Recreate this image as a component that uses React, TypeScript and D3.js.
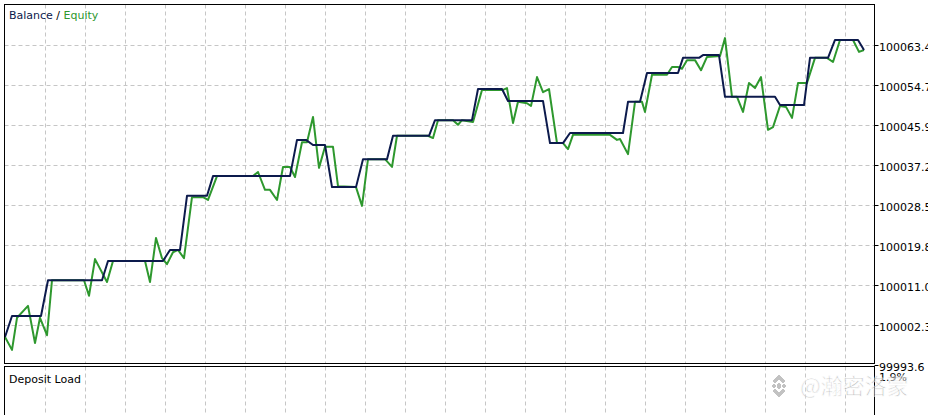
import React from "react";
import * as d3 from "d3";

// Balance line: time index (bar number) and account value
const balanceT = [0, 7, 36, 43, 97, 103, 158, 165, 175, 182, 202, 208, 285, 292, 301, 308, 320, 327, 351, 358, 382, 388, 424, 430, 467, 473, 497, 503, 538, 545, 558, 565, 618, 623, 635, 642, 673, 678, 694, 698, 714, 720, 770, 775, 799, 805, 823, 830, 853, 859];
const balanceV = [99999.7, 100004.3, 100004.3, 100012.1, 100012.1, 100016.3, 100016.3, 100018.7, 100018.7, 100030.5, 100030.5, 100034.8, 100034.8, 100042.7, 100042.7, 100041.6, 100041.6, 100032.4, 100032.4, 100038.5, 100038.5, 100043.6, 100043.6, 100047.0, 100047.0, 100053.8, 100053.8, 100051.2, 100051.2, 100042.0, 100042.0, 100044.2, 100044.2, 100051.0, 100051.0, 100057.3, 100057.3, 100060.6, 100060.6, 100061.2, 100061.2, 100052.1, 100052.1, 100050.3, 100050.3, 100060.6, 100060.6, 100064.5, 100064.5, 100062.3];

// Equity line
const equityT = [0, 7, 12, 23, 30, 35, 42, 47, 79, 84, 90, 102, 108, 140, 145, 151, 157, 162, 168, 173, 179, 187, 198, 203, 212, 248, 253, 260, 265, 272, 278, 285, 290, 297, 302, 308, 314, 320, 328, 333, 351, 357, 363, 380, 387, 392, 423, 428, 433, 448, 453, 457, 468, 477, 498, 502, 508, 513, 522, 526, 532, 538, 544, 552, 558, 563, 568, 605, 612, 615, 623, 630, 637, 640, 647, 662, 667, 673, 677, 682, 690, 696, 702, 715, 720, 727, 732, 738, 744, 750, 756, 763, 768, 775, 781, 787, 793, 802, 810, 822, 828, 835, 848, 854, 859];
const equityV = [99999.7, 99996.9, 100003.9, 100006.5, 99998.4, 100003.9, 100000.1, 100012.1, 100012.1, 100008.7, 100016.7, 100011.7, 100016.3, 100016.3, 100011.7, 100021.3, 100016.9, 100015.6, 100018.2, 100018.7, 100016.9, 100030.2, 100030.2, 100029.6, 100034.8, 100034.8, 100035.7, 100031.8, 100031.8, 100029.6, 100036.8, 100036.8, 100034.6, 100042.2, 100042.2, 100047.7, 100036.6, 100041.2, 100041.2, 100032.6, 100032.4, 100028.3, 100038.5, 100038.5, 100036.8, 100043.6, 100043.6, 100043.1, 100047.0, 100047.0, 100046.0, 100047.0, 100046.6, 100053.6, 100053.6, 100054.0, 100046.4, 100051.0, 100050.7, 100050.1, 100056.4, 100053.1, 100053.8, 100042.0, 100042.0, 100040.7, 100043.8, 100043.8, 100042.7, 100042.9, 100039.6, 100051.0, 100051.0, 100048.8, 100056.9, 100056.9, 100058.6, 100058.6, 100058.2, 100060.1, 100060.1, 100057.9, 100060.8, 100061.0, 100064.9, 100052.1, 100052.1, 100048.8, 100055.1, 100054.0, 100056.4, 100044.9, 100045.5, 100050.1, 100049.9, 100047.5, 100055.1, 100055.1, 100060.6, 100060.6, 100059.7, 100064.5, 100064.5, 100061.9, 100062.3];

const yTickLabels = ["99993.6", "100002.3", "100011.0", "100019.8", "100028.5", "100037.2", "100045.9", "100054.7", "100063.4"];
const xGridTicks = [40, 80, 120, 160, 200, 240, 280, 320, 360, 400, 440, 480, 520, 560, 600, 640, 680, 720, 760, 800, 840];
const xDomain = [0, 869];
const depositLoadLabel = "1.9%";
const watermark = "@瀚密洛蒙";

const W = 928;
const H = 415;
const left = 4.5;
const right = 874.5;
const top = 4.5;
const mainBottom = 363.5;
const subTop = 366.5;

const FONT = "'DejaVu Sans', Verdana, sans-serif";
const BAL = "#0c1a4c";
const EQ = "#2e982e";

export default function App() {
  const x = d3.scaleLinear().domain(xDomain).range([5, 874]);
  const y = d3
    .scaleLinear()
    .domain([Number(yTickLabels[0]), Number(yTickLabels[yTickLabels.length - 1])])
    .range([365, 45]);

  const line = d3
    .line<[number, number]>()
    .x((d) => x(d[0]))
    .y((d) => y(d[1]));

  const balPts = balanceT.map((t, i) => [t, balanceV[i]] as [number, number]);
  const eqPts = equityT.map((t, i) => [t, equityV[i]] as [number, number]);

  return (
    <svg
      width={W}
      height={H}
      style={{ position: "absolute", left: 0, top: 0, background: "#fff", display: "block" }}
      fontFamily={FONT}
    >
      <defs>
        <clipPath id="mainClip">
          <rect x={left} y={top} width={right - left} height={mainBottom - top} />
        </clipPath>
      </defs>
      <rect x={0} y={0} width={W} height={H} fill="#fff" />

      {/* vertical grid - main and sub */}
      {xGridTicks.map((t) => (
        <g key={"vg" + t}>
          <line x1={Math.round(x(t)) + 0.5} x2={Math.round(x(t)) + 0.5} y1={top} y2={mainBottom} stroke="#c6c6c6" strokeDasharray="4,3" />
          <line x1={Math.round(x(t)) + 0.5} x2={Math.round(x(t)) + 0.5} y1={subTop} y2={H} stroke="#c6c6c6" strokeDasharray="4,3" />
        </g>
      ))}
      {/* horizontal grid */}
      {yTickLabels.slice(1).map((l) => {
        const yy = Math.round(y(Number(l))) + 0.5;
        return <line key={"hg" + l} x1={left} x2={right} y1={yy} y2={yy} stroke="#c6c6c6" strokeDasharray="4,3" />;
      })}

      <g clipPath="url(#mainClip)">
        <path d={line(eqPts) || ""} fill="none" stroke={EQ} strokeWidth={2} strokeLinejoin="round" />
        <path d={line(balPts) || ""} fill="none" stroke={BAL} strokeWidth={2} strokeLinejoin="round" />
      </g>

      {/* frames */}
      <rect x={left} y={top} width={right - left} height={mainBottom - top} fill="none" stroke="#000" strokeWidth={1} />
      <rect x={left} y={subTop} width={right - left} height={H + 10 - subTop} fill="none" stroke="#000" strokeWidth={1} />

      {/* right axis ticks and labels */}
      {yTickLabels.map((l) => {
        const yy = Math.round(y(Number(l))) + 0.5;
        return (
          <g key={"yt" + l}>
            <line x1={right} x2={right + 4} y1={yy} y2={yy} stroke="#000" />
            <text x={879} y={yy + 5} fontSize={11} fill="#000">
              {l}
            </text>
          </g>
        );
      })}
      <text x={879} y={381} fontSize={11} fill="#000">
        {depositLoadLabel}
      </text>

      {/* titles */}
      <text x={9} y={19} fontSize={11}>
        <tspan fill={BAL}>Balance</tspan>
        <tspan fill="#000"> / </tspan>
        <tspan fill={EQ}>Equity</tspan>
      </text>
      <text x={9} y={383} fontSize={11} fill="#000">
        Deposit Load
      </text>

      {/* watermark */}
      <g opacity={0.6} fill="#9a9a9a" stroke="#fff" strokeWidth={1}>
        <g transform="translate(779,386)">
          <path d="M0,-4 L4,0 L0,4 L-4,0 Z" />
          <path d="M-8,0 L-5,-3 L-2,0 L-5,3 Z" />
          <path d="M8,0 L5,-3 L2,0 L5,3 Z" />
          <path d="M0,-12 L7,-5 L4,-2 L0,-6 L-4,-2 L-7,-5 Z" />
          <path d="M0,12 L7,5 L4,2 L0,6 L-4,2 L-7,5 Z" />
        </g>
        <text x={800} y={394} fontSize={22} fontFamily="'Noto Sans CJK SC', sans-serif" strokeWidth={0.8}>
          {watermark}
        </text>
      </g>
    </svg>
  );
}
